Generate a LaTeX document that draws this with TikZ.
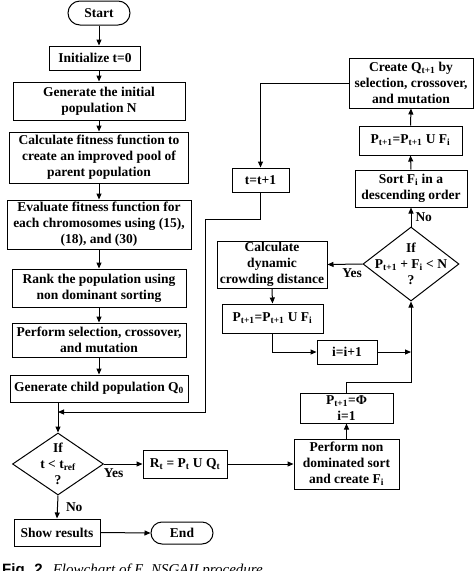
\documentclass[tikz,border=0pt]{standalone}
\usepackage{fontspec}
\setmainfont{Liberation Serif}
\newfontfamily\figsans{Liberation Sans}
\usetikzlibrary{arrows.meta,shapes.geometric,shapes.misc}

\tikzset{
  box/.style={draw, line width=1pt, inner sep=0pt, align=center,
    font=\fontsize{13.5}{16}\selectfont\bfseries},
  term/.style={box, rounded rectangle},
  decision/.style={box, diamond},
  arr/.style={line width=1pt, -{Triangle[length=6pt,width=5pt]}},
  lbl/.style={font=\fontsize{13.5}{16}\selectfont\bfseries, inner sep=2pt},
}
\newcommand{\lo}[1]{\textsubscript{#1}}
\newcommand{\dtext}[1]{\smash{\makebox[0pt]{\raisebox{-5pt}{\begin{tabular}{@{}c@{}}#1\end{tabular}}}}}

\begin{document}
\begin{tikzpicture}[x=1pt,y=-1pt]
\useasboundingbox (0,0) rectangle (474,571);

% Draw the left column
\node[term, minimum width=62pt, minimum height=24pt] (start) at (99,13) {Start};
\node[box, minimum width=91pt, minimum height=24pt] (init) at (95,58) {Initialize t=0};
\node[box, minimum width=172pt, minimum height=38pt] (gen) at (99,101) {Generate the initial\\population N};
\node[box, minimum width=179pt, minimum height=51pt] (calc) at (99,157.5) {Calculate fitness function to\\create an improved pool of\\parent population};
\node[box, minimum width=184pt, minimum height=49pt] (eval) at (99,224.5) {Evaluate fitness function for\\each chromosomes using (15),\\(18), and (30)};
\node[box, minimum width=174pt, minimum height=38pt] (rank) at (99,288) {Rank the population using\\non dominant sorting};
\node[box, minimum width=174pt, minimum height=34pt] (sel) at (99,340) {Perform selection, crossover,\\and mutation};
\node[box, minimum width=178pt, minimum height=27pt] (child) at (99,388.5) {Generate child population Q\lo{0}};
\node[decision, minimum width=91pt, minimum height=62pt] (dec1) at (58,464) {\dtext{If\\t {\textless} t\lo{ref}\\?}};
\node[box, minimum width=86pt, minimum height=27pt] (show) at (57,532.5) {Show results};
\node[term, minimum width=62pt, minimum height=22pt] (end) at (182,533) {End};

% Draw the bottom row
\node[box, minimum width=84pt, minimum height=28pt] (rt) at (185,464) {R\lo{t} = P\lo{t} U Q\lo{t}};
\node[box, minimum width=105pt, minimum height=50pt] (nds) at (346.5,464) {Perform non\\dominated sort\\and create F\lo{i}};
\node[box, minimum width=93pt, minimum height=30pt] (phi) at (346.5,408) {P\lo{t+1}=Φ\\i=1};

% Draw the right part
\node[decision, minimum width=96pt, minimum height=74pt] (dec2) at (411,264) {\dtext{If\\P\lo{t+1} + F\lo{i} {\textless} N\\?}};
\node[box, minimum width=112pt, minimum height=37pt] (sort) at (411,188.5) {Sort F\lo{i} in a\\descending order};
\node[box, minimum width=103pt, minimum height=29pt] (pu1) at (410.5,140.5) {P\lo{t+1}=P\lo{t+1} U F\lo{i}};
\node[box, minimum width=124pt, minimum height=50pt] (crq) at (411,83) {Create Q\lo{t+1} by\\selection, crossover,\\and mutation};
\node[box, minimum width=57pt, minimum height=24pt] (tt) at (260.5,180) {t=t+1};
\node[box, minimum width=110pt, minimum height=47pt] (cdd) at (272,264.5) {Calculate\\dynamic\\crowding distance};
\node[box, minimum width=101pt, minimum height=29pt] (pu2) at (272.5,318.5) {P\lo{t+1}=P\lo{t+1} U F\lo{i}};
\node[box, minimum width=60pt, minimum height=24pt] (inc) at (347,352) {i=i+1};

% Draw the edges
\draw[arr] (start.south) -- (start.south |- init.north);
\draw[arr] (start.south |- init.south) -- (start.south |- gen.north);
\draw[arr] (gen) -- (calc);
\draw[arr] (calc) -- (eval);
\draw[arr] (eval) -- (rank);
\draw[arr] (rank) -- (sel);
\draw[arr] (sel) -- (child);
\draw[arr] (child.south -| dec1) -- (dec1.north);
\coordinate (j1) at (58,412);
\draw[arr] (tt.south) |- (205,219) |- (j1);
\draw[arr] (dec1.east) -- node[lbl, pos=0.25, below=2pt] (yes1) {Yes} (rt.west);
\draw[arr] (dec1.south) -- node[lbl, right=6pt] (no1) {No} (show.north);
\draw[arr] (show.east) -- (end.west);
\draw[arr] (rt.east) -- (nds.west);
\draw[arr] (nds.north) -- (phi.south);
\coordinate (j2) at (411,382);
\draw[arr] (phi.north) |- (j2) -- (dec2.south);
\draw[arr] (inc.east) -- (inc.east -| dec2.south);
\draw[arr] (pu2.south) |- (inc.west);
\draw[arr] (cdd.south) -- (pu2.north);
\draw[arr] (dec2.west) -- node[lbl, pos=0.3, below=2pt] (yes2) {Yes} (cdd.east);
\draw[arr] (dec2.north) -- node[lbl, right=2pt] (no2) {No} (sort.south);
\draw[arr] (sort.north) -- (pu1.south);
\draw[arr] (pu1.north) -- (crq.south);
\draw[arr] (crq.west) -| (tt.north);

% Caption
\node[anchor=base west, inner sep=0pt] (cap) at (2,574) {{\figsans\bfseries\fontsize{15}{17}\selectfont Fig. 2}\hspace{10pt}{\itshape\fontsize{15}{17}\selectfont Flowchart of E\_NSGAII procedure}};

\end{tikzpicture}
\end{document}
